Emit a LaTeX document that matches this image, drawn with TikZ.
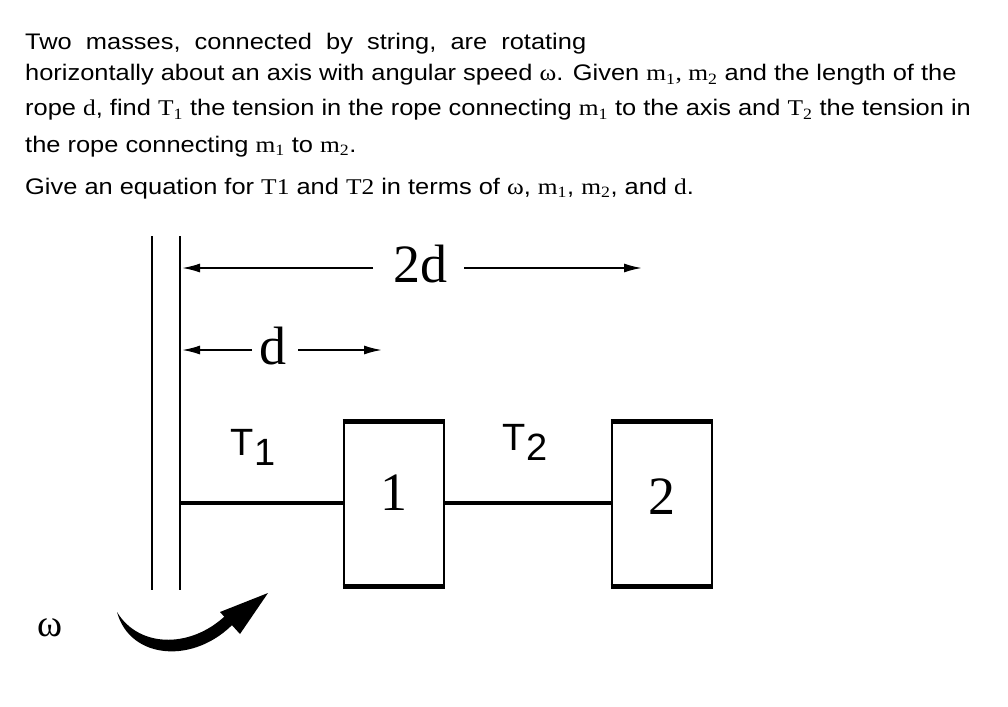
\documentclass[tikz,border=0pt]{standalone}
\usepackage{fontspec}
\setmainfont{Liberation Sans}
\newfontfamily\serf{Liberation Serif}
\usetikzlibrary{arrows.meta}
\begin{document}
\begin{tikzpicture}[x=1pt,y=-1pt,
  txt/.style={anchor=base west,inner sep=0,font=\fontsize{22.5}{26}\selectfont},
  lbl/.style={inner sep=0,font=\serf\fontsize{54}{58}\selectfont},
  tl/.style={inner sep=0,font=\fontsize{38}{42}\selectfont},
  rod/.style={line width=3.6pt},
  box/.style={draw,line width=2.6pt,minimum width=100pt,minimum height=162pt,inner sep=0}]
\fill[white] (0,0) rectangle (1008,706);
\newcommand\widetxt[1]{\scalebox{1.13}[1]{#1}}
\node[txt] (l1) at (25,50) {\widetxt{Two\ \ masses,\ \ connected\ \ by\ \ string,\ \ are\ \ rotating}};
\node[txt] (l2) at (25,81) {\widetxt{horizontally about an axis with angular speed {\serf ω}. Given {\serf m\textsubscript{1}, m\textsubscript{2}} and the length of the}};
\node[txt] (l3) at (25,116) {\widetxt{rope {\serf d}, find {\serf T\textsubscript{1}} the tension in the rope connecting {\serf m\textsubscript{1}} to the axis and {\serf T\textsubscript{2}} the tension in}};
\node[txt] (l4) at (25,152) {\widetxt{the rope connecting {\serf m\textsubscript{1}} to {\serf m\textsubscript{2}}.}};
\node[txt] (l5) at (25,194) {\widetxt{Give an equation for {\serf T1} and {\serf T2} in terms of {\serf ω}, {\serf m\textsubscript{1}}, {\serf m\textsubscript{2}}, and {\serf d}.}};
% axis
\coordinate (a1t) at (152,236); \coordinate (a1b) at (152,590);
\coordinate (a2t) at (180,236); \coordinate (a2b) at (180,590);
\draw[line width=2.4pt] (a1t) -- (a1b);
\draw[line width=2.4pt] (a2t) -- (a2b);
% dims
\tikzset{ar/.style={line width=1.8pt,-{Latex[length=18pt,width=9pt]}}}
\node[lbl] (two) at (420,264) {2d};
\coordinate (t0) at (182,268); \coordinate (t1) at (642,268);
\coordinate (t2) at (373,268); \coordinate (t3) at (464,268);
\draw[ar] (t2) -- (t0);
\draw[ar] (t3) -- (t1);
\node[lbl] (dd) at (273,346) {d};
\coordinate (d0) at (182,350); \coordinate (d1) at (382,350);
\coordinate (d2) at (252,350); \coordinate (d3) at (298,350);
\draw[ar] (d2) -- (d0);
\draw[ar] (d3) -- (d1);
% boxes
\node[box] (b1) at (394,504) {};
\node[lbl] at (394,493) {1};
\node[box] (b2) at (662,504) {};
\node[lbl] at (662,497) {2};
\draw[line width=5pt] (b1.north west) -- (b1.north east);
\draw[line width=5pt] (b1.south west) -- (b1.south east);
\draw[line width=5pt] (b2.north west) -- (b2.north east);
\draw[line width=5pt] (b2.south west) -- (b2.south east);
\coordinate (r0) at (180,503);
\draw[rod] (r0) -- (b1.west|-r0);
\draw[rod] (b1.east|-r0) -- (b2.west|-r0);
\node[tl] (T1) at (253,447) {T\raisebox{-10pt}{1}};
\node[tl] (T2) at (525,442) {T\raisebox{-10pt}{2}};
% omega
\node[inner sep=0,font=\serf\fontsize{38}{42}\selectfont] (om) at (50,628) {ω};
\coordinate (c0) at (117,612); \coordinate (c1) at (268,593);
\fill (c0) .. controls (130,660) and (195,665) .. (235,622) -- (229,612) .. controls (195,648) and (140,650) .. (c0);
\fill (c1) -- (220,612) -- (240,634) -- cycle;
\end{tikzpicture}
\end{document}
